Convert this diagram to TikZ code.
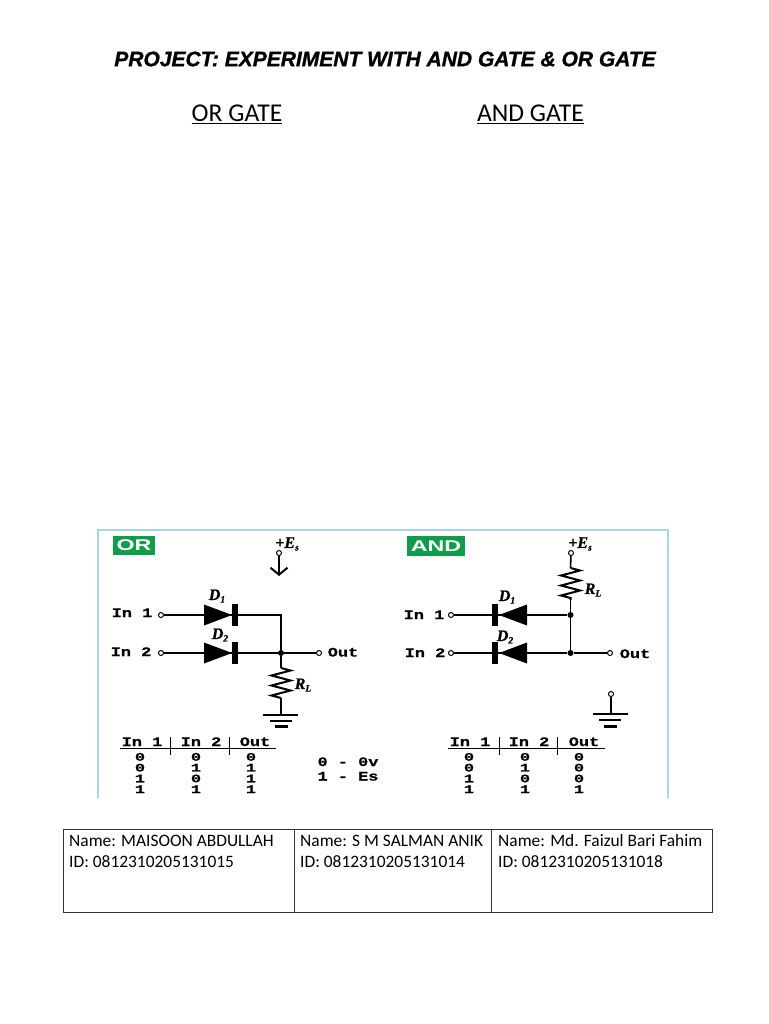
\documentclass[tikz,border=0pt]{standalone}
\usepackage{fontspec}
\setmainfont{Carlito}
\newfontfamily\titlefont[BoldItalicFeatures={FakeBold=1.2}]{Liberation Sans}
\newfontfamily\badgefont[FakeStretch=1.5]{Liberation Sans}
\newfontfamily\circfont[FakeStretch=1.3, BoldFeatures={FakeBold=0.8}]{Liberation Mono}
\newfontfamily\digitfont[FakeStretch=1.5, BoldFeatures={FakeBold=0.8}]{Liberation Mono}
\newfontfamily\symfont[BoldItalicFeatures={FakeBold=0.8}]{Liberation Serif}
\usetikzlibrary{positioning, arrows.meta, decorations.pathmorphing}
\definecolor{framecol}{HTML}{A9D5E8}
\definecolor{badgecol}{HTML}{0F9D4A}
\definecolor{cellcol}{HTML}{333333}
\newcommand{\subl}[1]{\raisebox{-2.5pt}{\fontsize{9.5}{9.5}\selectfont #1}}
\tikzset{
  wire/.style={line width=1.6pt},
  res/.style={line width=2pt, decorate, decoration={zigzag, segment length=10pt, amplitude=9.5pt}},
  gnd/.style={line width=2pt},
  term/.style={draw, circle, fill=white, inner sep=0pt, minimum size=5pt, line width=1pt},
  dot/.style={circle, fill=black, inner sep=0pt, minimum size=6pt},
  bar/.style={fill=black, inner sep=0pt, minimum width=6pt, minimum height=22pt},
  ctext/.style={font=\digitfont\bfseries\fontsize{11.5}{10.8}\selectfont, inner sep=0pt, align=center},
  clabel/.style={font=\circfont\bfseries\fontsize{13}{13}\selectfont, inner sep=0pt, text height=8pt, text depth=0pt},
  sym/.style={font=\symfont\bfseries\itshape\fontsize{16}{16}\selectfont, inner sep=0pt},
  badge/.style={fill=badgecol, text=white, inner sep=0pt, font=\badgefont\bfseries\fontsize{15.5}{15.5}\selectfont},
  cell/.style={draw=cellcol, line width=1pt, anchor=north west, inner sep=0pt, minimum height=83pt},
  celltext/.style={font=\fontsize{17.4}{17.4}\selectfont, inner sep=0pt, anchor=west},
  head/.style={font=\fontsize{25.6}{25.6}\selectfont, inner sep=0pt}
}

\begin{document}
\begin{tikzpicture}[x=1pt, y=-1pt]
\useasboundingbox[fill=white] (0,0) rectangle (768,1024);

% headings
\node[font=\titlefont\bfseries\itshape\fontsize{21}{21}\selectfont, inner sep=0pt] (title) at (385,59) {PROJECT: EXPERIMENT WITH AND GATE \& OR GATE};
\node[head] (orhead) at (237,114.5) {\underline{OR GATE}};
\node[head] (andhead) at (530.5,114.5) {\underline{AND GATE}};

% picture frame
\draw[framecol, line width=1.5pt] (98,798) -- (98,530) -- (668,530) -- (668,798);

% OR circuit
\node[badge, minimum width=42pt, minimum height=19pt] (orbadge) at (134,545.5) {OR};
\node[sym] (ores) at (287,544) {+E\subl{s}};
\node[term] (oresp) at (279,553) {};
\coordinate (oresa) at (279,576);
\draw[line width=2pt, -{Straight Barb[length=7pt, width=17pt]}] (oresp) -- (oresa);

\node[clabel] (oin1) at (132,613) {In 1};
\node[clabel] (oin2) at (131,652) {In 2};
\node[term] (ot1) at (161,615) {};
\node[term] (ot2) at (161,653) {};
\node[bar] (od1) at (235,615) {};
\node[bar] (od2) at (235,653) {};
\fill (204,604.5) -- (232,615) -- (204,625.5) -- cycle;
\fill (204,642.5) -- (232,653) -- (204,663.5) -- cycle;
\node[sym] (odl1) at (217,596) {D\subl{1}};
\node[sym] (odl2) at (220,635) {D\subl{2}};
\coordinate (ocorner) at (281,615);
\node[dot] (oj) at (281,653) {};
\node[term] (oout) at (319,653) {};
\node[clabel] (ooutl) at (343,652.5) {Out};
\coordinate (ort) at (281,668);
\coordinate (orb) at (281,698);
\coordinate (ognd) at (281,715);
\node[sym] (orl) at (303,685) {R\subl{L}};
\draw[wire] (ot1) -- (od1);
\draw[wire] (ot2) -- (od2);
\draw[wire] (od1) -- (ocorner) -- (oj);
\draw[wire] (od2) -- (oj) -- (oout);
\draw[wire] (oj) -- (ort);
\draw[res] (ort) -- (orb);
\draw[wire] (orb) -- (ognd);
\draw[gnd] (263,715) -- (298,715);
\draw[gnd] (270,721) -- (292,721);
\draw[line width=2.6pt] (275,726.5) -- (288,726.5);

% OR table
\node[clabel] (oh1) at (142,742) {In 1};
\node[clabel] (oh2) at (201,742) {In 2};
\node[clabel] (oh3) at (255,742) {Out};
\draw[line width=0.9pt] (120,748.5) -- (276,748.5);
\draw[line width=0.9pt] (170,737) -- (170,755);
\draw[line width=0.9pt] (229,737) -- (229,755);
\node[ctext] (oc1) at (140,773) {0\\0\\1\\1};
\node[ctext] (oc2) at (196,773) {0\\1\\0\\1};
\node[ctext] (oc3) at (251,773) {0\\1\\1\\1};
\node[ctext, font=\circfont\bfseries\fontsize{13}{14.5}\selectfont] (olegend) at (348,769) {0 - 0v\\1 - Es};

% AND circuit
\node[badge, minimum width=58pt, minimum height=20pt] (andbadge) at (436,546) {AND};
\node[sym] (aes) at (580,544) {+E\subl{s}};
\node[term] (aesp) at (571,553) {};
\coordinate (art) at (570.5,568);
\coordinate (arb) at (570.5,600);
\node[sym] (arl) at (593,590) {R\subl{L}};
\node[dot] (aj1) at (570.5,615) {};
\node[dot] (aj2) at (570.5,653) {};
\node[clabel] (ain1) at (424,615) {In 1};
\node[clabel] (ain2) at (425,653) {In 2};
\node[term] (at1) at (451,615) {};
\node[term] (at2) at (451,653) {};
\node[bar] (ad1) at (495,615) {};
\node[bar] (ad2) at (495,653) {};
\fill (527,604.5) -- (499,615) -- (527,625.5) -- cycle;
\fill (527,642.5) -- (499,653) -- (527,663.5) -- cycle;
\node[sym] (adl1) at (507,597) {D\subl{1}};
\node[sym] (adl2) at (505,637) {D\subl{2}};
\node[term] (aout) at (610,653) {};
\node[clabel] (aoutl) at (635,654) {Out};
\node[term] (agt) at (611,694) {};
\coordinate (agnd) at (611,714);
\draw[wire] (aesp) -- (art);
\draw[res] (art) -- (arb);
\draw[wire] (arb) -- (aj1) -- (aj2) -- (aout);
\draw[wire] (at1) -- (ad1);
\draw[wire] (at2) -- (ad2);
\draw[wire] (ad1) -- (aj1);
\draw[wire] (ad2) -- (aj2);
\draw[wire] (agt) -- (agnd);
\draw[gnd] (593,714) -- (628,714);
\draw[gnd] (599,720) -- (621,720);
\draw[line width=2.6pt] (604,726.5) -- (617,726.5);

% AND table
\node[clabel] (ah1) at (470,742) {In 1};
\node[clabel] (ah2) at (529,742) {In 2};
\node[clabel] (ah3) at (584,742) {Out};
\draw[line width=0.9pt] (448,748.5) -- (605,748.5);
\draw[line width=0.9pt] (499,737) -- (499,755);
\draw[line width=0.9pt] (557,737) -- (557,755);
\node[ctext] (ac1) at (469,773) {0\\0\\1\\1};
\node[ctext] (ac2) at (525,773) {0\\1\\0\\1};
\node[ctext] (ac3) at (579,773) {0\\0\\0\\1};

% names
\node[cell, minimum width=230.5pt] (cell1) at (63,829) {};
\node[cell, minimum width=197.5pt] (cell2) at (293.5,829) {};
\node[cell, minimum width=221pt] (cell3) at (491,829) {};
\node[celltext] (name1) at (69,841) {Name: MAISOON ABDULLAH};
\node[celltext] (id1) at (69,862) {ID: 0812310205131015};
\node[celltext] (name2) at (300,841) {Name: S M SALMAN ANIK};
\node[celltext] (id2) at (300,862) {ID: 0812310205131014};
\node[celltext] (name3) at (498,841) {Name: Md. Faizul Bari Fahim};
\node[celltext] (id3) at (498,862) {ID: 0812310205131018};
\end{tikzpicture}
\end{document}
